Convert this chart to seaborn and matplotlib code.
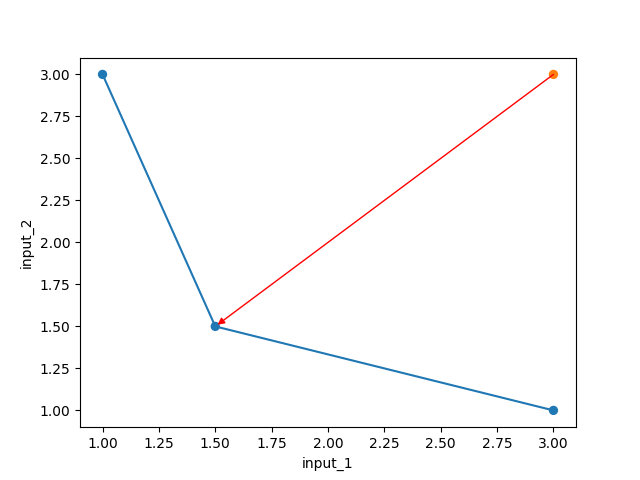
import matplotlib
matplotlib.use("Agg")
import matplotlib.pyplot as plt
import pandas as pd
import seaborn as sns

input_1 = [1.0, 1.5, 3.0]
input_2 = [3.0, 1.5, 1.0]
new_x = [3.0]
new_y = [3.0]


def start():
    df = pd.DataFrame({"input_1": input_1, "input_2": input_2})
    fig, ax = plt.subplots(figsize=(6.4, 4.8), dpi=100)

    sns.lineplot(data=df, x="input_1", y="input_2", sort=False, color="#1f77b4", ax=ax)
    sns.scatterplot(data=df, x="input_1", y="input_2", color="#1f77b4",
                    s=45, edgecolor="none", ax=ax, zorder=3)
    sns.scatterplot(x=new_x, y=new_y, color="#ff7f0e", s=45, edgecolor="none",
                    ax=ax, zorder=3)

    ax.annotate("", xy=(input_1[1], input_2[1]), xytext=(new_x[0], new_y[0]),
                arrowprops=dict(arrowstyle="-|>", color="red", lw=1,
                                shrinkA=0, shrinkB=2, mutation_scale=10))

    ax.set_xlabel("input_1")
    ax.set_ylabel("input_2")
    plt.savefig("out.png", dpi=100)
    plt.clf()


if __name__ == "__main__":
    start()
